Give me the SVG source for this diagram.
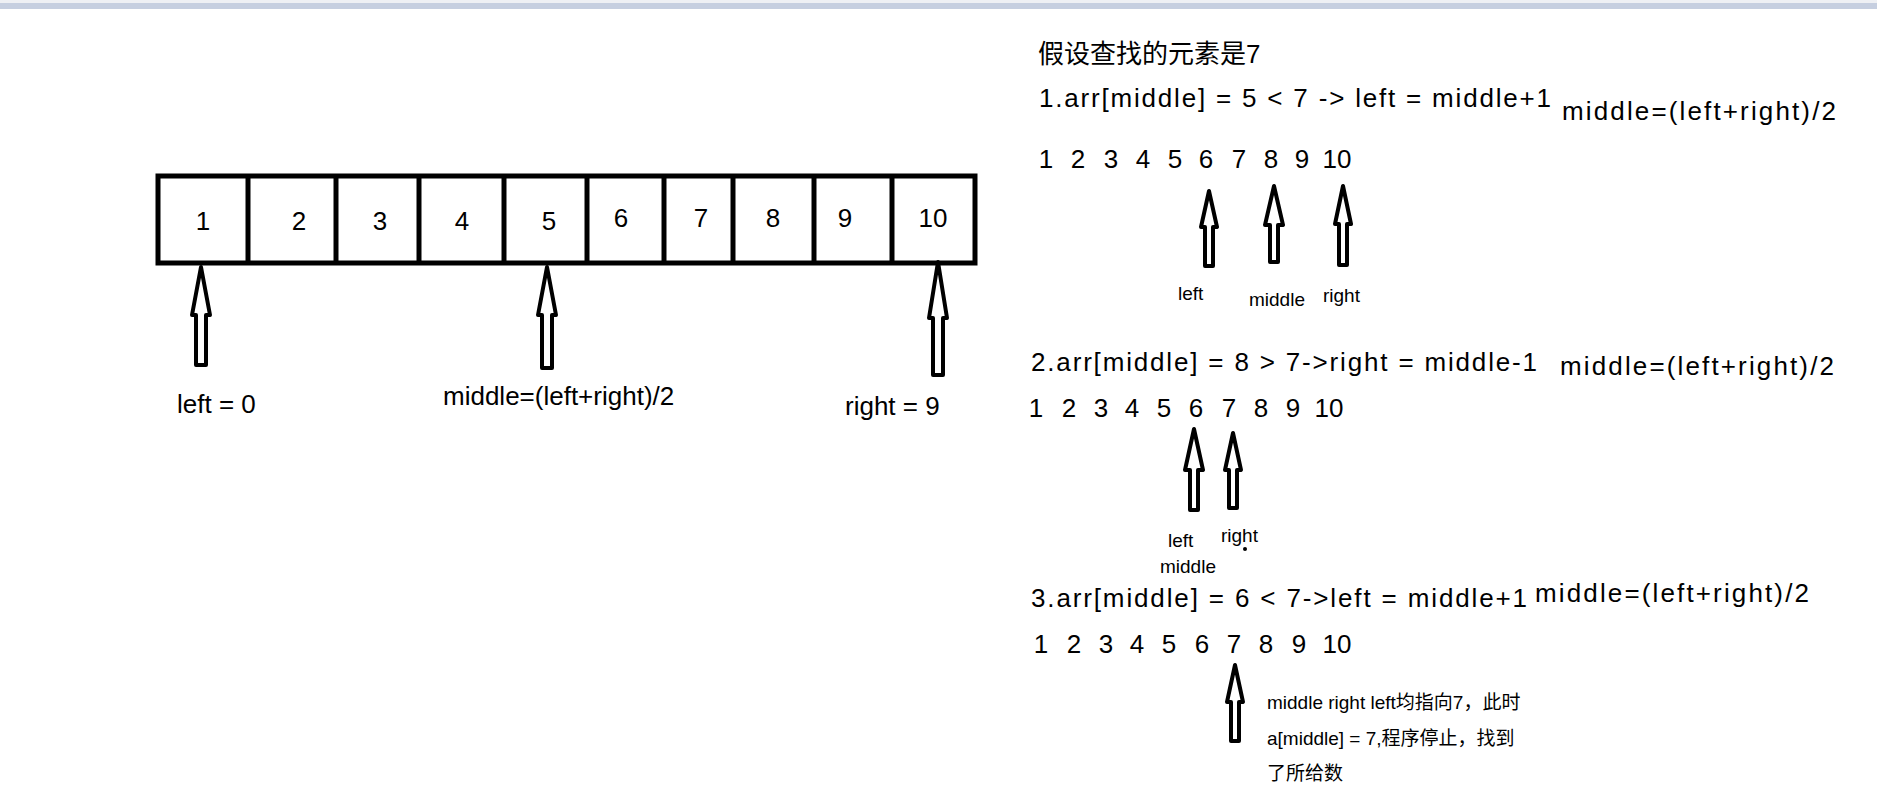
<svg xmlns="http://www.w3.org/2000/svg" width="1877" height="796" viewBox="0 0 1877 796">
<style>
text{font-family:"Liberation Sans","Noto Sans CJK SC",sans-serif;fill:#000}
.n{font-size:26px;text-anchor:middle}
.l{font-size:26px}
.s{font-size:19px}
.arr{fill:#fff;stroke:#000;stroke-width:4;stroke-linejoin:round}
.cell{fill:#fff;stroke:#000;stroke-width:5}
</style>
<rect width="1877" height="796" fill="#fff"/>
<rect x="0" y="0" width="1877" height="3" fill="#eef0f4"/>
<rect x="0" y="3" width="1877" height="6" fill="#c6cfe0"/>
<g id="array">
<rect class="cell" x="158" y="176" width="817" height="87"/>
<g stroke="#000" stroke-width="5">
<line x1="248" y1="176" x2="248" y2="263"/><line x1="336" y1="176" x2="336" y2="263"/><line x1="419" y1="176" x2="419" y2="263"/><line x1="504" y1="176" x2="504" y2="263"/><line x1="587" y1="176" x2="587" y2="263"/><line x1="664" y1="176" x2="664" y2="263"/><line x1="733" y1="176" x2="733" y2="263"/><line x1="814" y1="176" x2="814" y2="263"/><line x1="892" y1="176" x2="892" y2="263"/>
</g>
<text class="n" x="203" y="230">1</text><text class="n" x="299" y="230">2</text><text class="n" x="380" y="230">3</text><text class="n" x="462" y="230">4</text><text class="n" x="549" y="230">5</text><text class="n" x="621" y="227">6</text><text class="n" x="701" y="227">7</text><text class="n" x="773" y="227">8</text><text class="n" x="845" y="227">9</text><text class="n" x="933" y="227">10</text>
</g>
<g id="connectors">
<path class="arr" d="M201,267 L210,315 L206,315 L206,365 L196,365 L196,315 L192,315 Z"/>
<path class="arr" d="M547,267 L556,315 L552,315 L552,368 L542,368 L542,315 L538,315 Z"/>
<path class="arr" d="M938,262 L947,318 L943,318 L943,375 L933,375 L933,318 L929,318 Z"/>
<path class="arr" d="M1209,191 L1217,227 L1213,227 L1213,266 L1205,266 L1205,227 L1201,227 Z"/>
<path class="arr" d="M1274,186 L1283,225 L1278,225 L1278,262 L1270,262 L1270,225 L1265,225 Z"/>
<path class="arr" d="M1343,186 L1351,224 L1347,224 L1347,265 L1339,265 L1339,224 L1335,224 Z"/>
<path class="arr" d="M1194,429 L1203,470 L1198,470 L1198,510 L1190,510 L1190,470 L1185,470 Z"/>
<path class="arr" d="M1233,433 L1241,470 L1237,470 L1237,508 L1229,508 L1229,470 L1225,470 Z"/>
<path class="arr" d="M1235,665 L1243,702 L1239,702 L1239,741 L1231,741 L1231,702 L1227,702 Z"/>
</g>
<g id="labels-left">
<text class="l" x="177" y="413">left = 0</text>
<text class="l" x="443" y="405">middle=(left+right)/2</text>
<text class="l" x="845" y="415">right = 9</text>
</g>
<g id="step0"><text class="l" x="1038" y="63" font-size="25">假设查找的元素是7</text></g>
<g id="step1">
<text class="l" x="1039" y="107" textLength="512">1.arr[middle] = 5 &lt; 7 -&gt; left = middle+1</text>
<text class="l" x="1562" y="120" textLength="274">middle=(left+right)/2</text>
<g class="n"><text class="n" x="1046" y="168">1</text><text class="n" x="1078" y="168">2</text><text class="n" x="1111" y="168">3</text><text class="n" x="1143" y="168">4</text><text class="n" x="1175" y="168">5</text><text class="n" x="1206" y="168">6</text><text class="n" x="1239" y="168">7</text><text class="n" x="1271" y="168">8</text><text class="n" x="1302" y="168">9</text><text class="n" x="1337" y="168">10</text></g>
<text class="s" x="1178" y="300">left</text>
<text class="s" x="1249" y="306">middle</text>
<text class="s" x="1323" y="302">right</text>
</g>
<g id="step2">
<text class="l" x="1031" y="371" textLength="506">2.arr[middle] = 8 &gt; 7-&gt;right = middle-1</text>
<text class="l" x="1560" y="375" textLength="274">middle=(left+right)/2</text>
<text class="n" x="1036" y="417">1</text><text class="n" x="1069" y="417">2</text><text class="n" x="1101" y="417">3</text><text class="n" x="1132" y="417">4</text><text class="n" x="1164" y="417">5</text><text class="n" x="1196" y="417">6</text><text class="n" x="1229" y="417">7</text><text class="n" x="1261" y="417">8</text><text class="n" x="1293" y="417">9</text><text class="n" x="1329" y="417">10</text>
<text class="s" x="1168" y="547">left</text>
<text class="s" x="1160" y="573">middle</text>
<text class="s" x="1221" y="542">right</text>
<circle cx="1245" cy="549" r="2" fill="#000"/>
</g>
<g id="step3">
<text class="l" x="1031" y="607" textLength="496">3.arr[middle] = 6 &lt; 7-&gt;left = middle+1</text>
<text class="l" x="1535" y="602" font-size="28" textLength="274">middle=(left+right)/2</text>
<text class="n" x="1041" y="653">1</text><text class="n" x="1074" y="653">2</text><text class="n" x="1106" y="653">3</text><text class="n" x="1137" y="653">4</text><text class="n" x="1169" y="653">5</text><text class="n" x="1202" y="653">6</text><text class="n" x="1234" y="653">7</text><text class="n" x="1266" y="653">8</text><text class="n" x="1299" y="653">9</text><text class="n" x="1337" y="653">10</text>
<text class="s" x="1267" y="709">middle  right left均指向7，此时</text>
<text class="s" x="1267" y="745">a[middle] = 7,程序停止，找到</text>
<text class="s" x="1267" y="780">了所给数</text>
</g>
</svg>
